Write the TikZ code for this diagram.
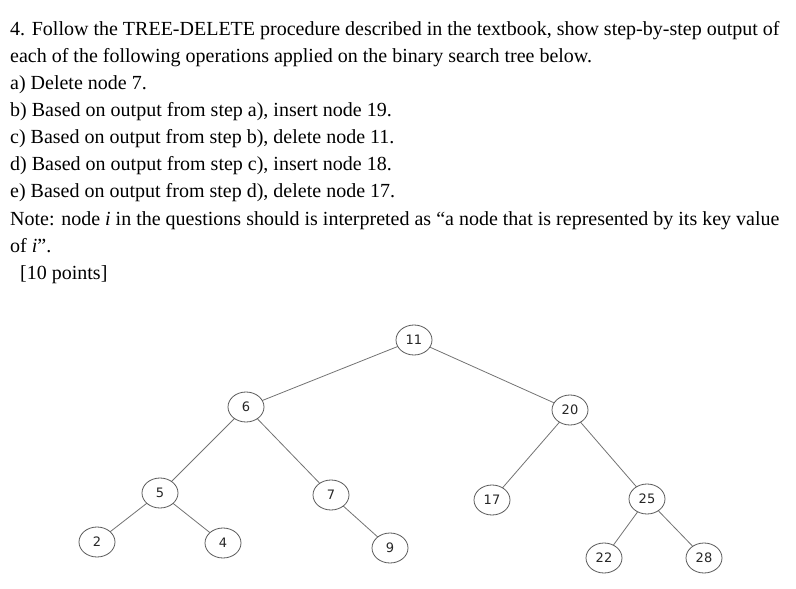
\documentclass[tikz,border=0pt]{standalone}
\usepackage{fontspec}
\setmainfont{Liberation Serif}
\setsansfont{DejaVu Sans}
\usetikzlibrary{shapes.geometric}
\tikzset{
  line/.style={anchor=base west, inner sep=0pt, font=\fontsize{20}{22}\selectfont},
  key/.style={ellipse, draw=black!65, thick, minimum width=36pt, minimum height=30pt, inner sep=0pt, fill=white, text=black!85, font=\sffamily\fontsize{13}{15}\selectfont},
  edge/.style={draw=black!55, thick}
}
\begin{document}
\begin{tikzpicture}[x=1pt,y=-1pt]
  \useasboundingbox (0,0) rectangle (796,589);
  % question text
  \node[line] (l1) at (10,35) {4. Follow the TREE-DELETE procedure described in the textbook, show step-by-step output of};
  \node[line] (l2) at (10,62) {each of the following operations applied on the binary search tree below.};
  \node[line] (l3) at (10,89) {a) Delete node 7.};
  \node[line] (l4) at (10,116) {b) Based on output from step a), insert node 19.};
  \node[line] (l5) at (10,143) {c) Based on output from step b), delete node 11.};
  \node[line] (l6) at (10,170) {d) Based on output from step c), insert node 18.};
  \node[line] (l7) at (10,197) {e) Based on output from step d), delete node 17.};
  \node[line] (l8) at (10,225) {Note: node \textit{i} in the questions should is interpreted as ``a node that is represented by its key value};
  \node[line] (l9) at (10,252) {of \textit{i}''.};
  \node[line] (l10) at (20,279) {[10 points]};
  % tree edges
  \coordinate (p11) at (414,340);
  \coordinate (p6) at (246,407);
  \coordinate (p20) at (570,410);
  \coordinate (p5) at (160,493);
  \coordinate (p7) at (331,495);
  \coordinate (p17) at (492,500);
  \coordinate (p25) at (647,499);
  \coordinate (p2) at (97,542);
  \coordinate (p4) at (223,543);
  \coordinate (p9) at (390,548);
  \coordinate (p22) at (604,558);
  \coordinate (p28) at (704,558);
  \foreach \a/\b in {11/6, 11/20, 6/5, 6/7, 5/2, 5/4, 7/9, 20/17, 20/25, 25/22, 25/28}
    \draw[edge] (p\a) -- (p\b);
  % tree nodes
  \foreach \k in {11, 6, 20, 5, 7, 17, 25, 2, 4, 9, 22, 28}
    \node[key] (n\k) at (p\k) {\k};
\end{tikzpicture}
\end{document}
